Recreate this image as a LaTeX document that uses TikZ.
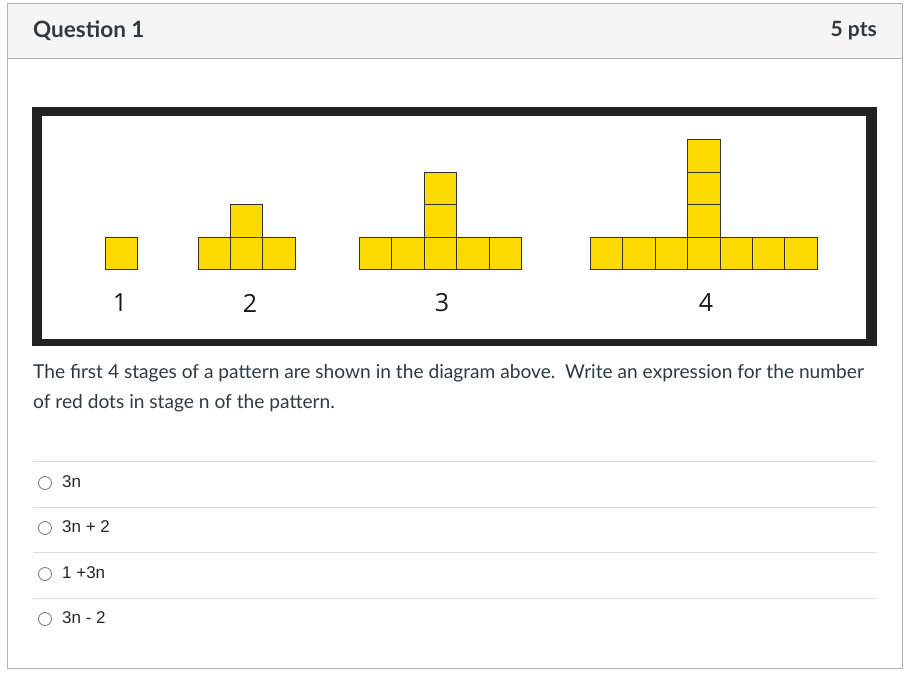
\documentclass[tikz,border=0pt]{standalone}
\usepackage{fontspec}
\setmainfont{Lato}
\newfontfamily\digitfont{Open Sans}
\newfontfamily\optfont{Liberation Sans}
\definecolor{tileyellow}{RGB}{255,218,0}
\definecolor{cardborder}{RGB}{178,178,178}
\definecolor{headfill}{RGB}{245,245,245}
\definecolor{sepline}{RGB}{221,221,221}
\definecolor{framecol}{RGB}{34,34,34}
\definecolor{textcol}{RGB}{45,59,69}
\begin{document}
\begin{tikzpicture}[x=1pt,y=-1pt,
  tile/.style={fill=tileyellow,draw=black!80,line width=0.9pt},
  stagelabel/.style={font=\digitfont\fontsize{25}{28}\selectfont,text=black!90,inner sep=0pt},
  opttext/.style={font=\optfont\fontsize{17}{20}\selectfont,text=black!85,anchor=west,inner sep=0pt},
  radio/.style={draw=black!55,line width=0.8pt,fill=white},
  sep/.style={draw=sepline,line width=1pt},
  bodytext/.style={anchor=west,inner sep=0pt,text=textcol,font=\fontsize{19.15}{22}\selectfont}]
\useasboundingbox (0,0) rectangle (909,675);
\fill[white] (0,0) rectangle (909,675);
% card
\fill[headfill] (7,3) rectangle (902,58);
\draw[cardborder,line width=1pt] (7,3) rectangle (902,668);
\draw[cardborder,line width=1pt] (7,58) -- (902,58);
\node[anchor=west,inner sep=0pt,text=textcol,font=\bfseries\fontsize{22.5}{26}\selectfont] (qtitle) at (33,30.5) {Question 1};
\node[anchor=east,inner sep=0pt,text=textcol,font=\bfseries\fontsize{21}{24}\selectfont] (pts) at (877,30.5) {5 pts};
% frame
\fill[framecol] (32,107) rectangle (877,346);
\fill[white] (42,116) rectangle (866,339);
% stage 1
\def\s{32.4}
\draw[tile] (105,237) rectangle ++(\s,\s);
% stage 2
\foreach \i in {0,1,2} {\draw[tile] ({198+\i*\s},237) rectangle ++(\s,\s);}
\draw[tile] ({198+\s},{237-\s}) rectangle ++(\s,\s);
% stage 3
\foreach \i in {0,...,4} {\draw[tile] ({359.5+\i*\s},237) rectangle ++(\s,\s);}
\foreach \j in {1,2} {\draw[tile] ({359.5+2*\s},{237-\j*\s}) rectangle ++(\s,\s);}
% stage 4
\foreach \i in {0,...,6} {\draw[tile] ({590.5+\i*\s},237) rectangle ++(\s,\s);}
\foreach \j in {1,2,3} {\draw[tile] ({590.5+3*\s},{237-\j*\s}) rectangle ++(\s,\s);}
% labels
\node[stagelabel] (l1) at (120,303) {1};
\node[stagelabel] (l2) at (250,303) {2};
\node[stagelabel] (l3) at (442,303) {3};
\node[stagelabel] (l4) at (706,303) {4};
% question text
\node[bodytext] (t1) at (33,373) {The first 4 stages of a pattern are shown in the diagram above.\ \ Write an expression for the number};
\node[bodytext] (t2) at (33,403) {of red dots in stage n of the pattern.};
% options
\draw[sep] (33,461) -- (877,461);
\draw[sep] (33,507) -- (877,507);
\draw[sep] (33,552) -- (877,552);
\draw[sep] (33,598) -- (877,598);
\draw[radio] (45,483) circle (6.5);
\draw[radio] (45,528) circle (6.5);
\draw[radio] (45,574) circle (6.5);
\draw[radio] (45,619) circle (6.5);
\node[opttext] (o1) at (62,482) {3n};
\node[opttext] (o2) at (62,527) {3n + 2};
\node[opttext] (o3) at (62,573) {1 +3n};
\node[opttext] (o4) at (62,618) {3n - 2};
\end{tikzpicture}
\end{document}
